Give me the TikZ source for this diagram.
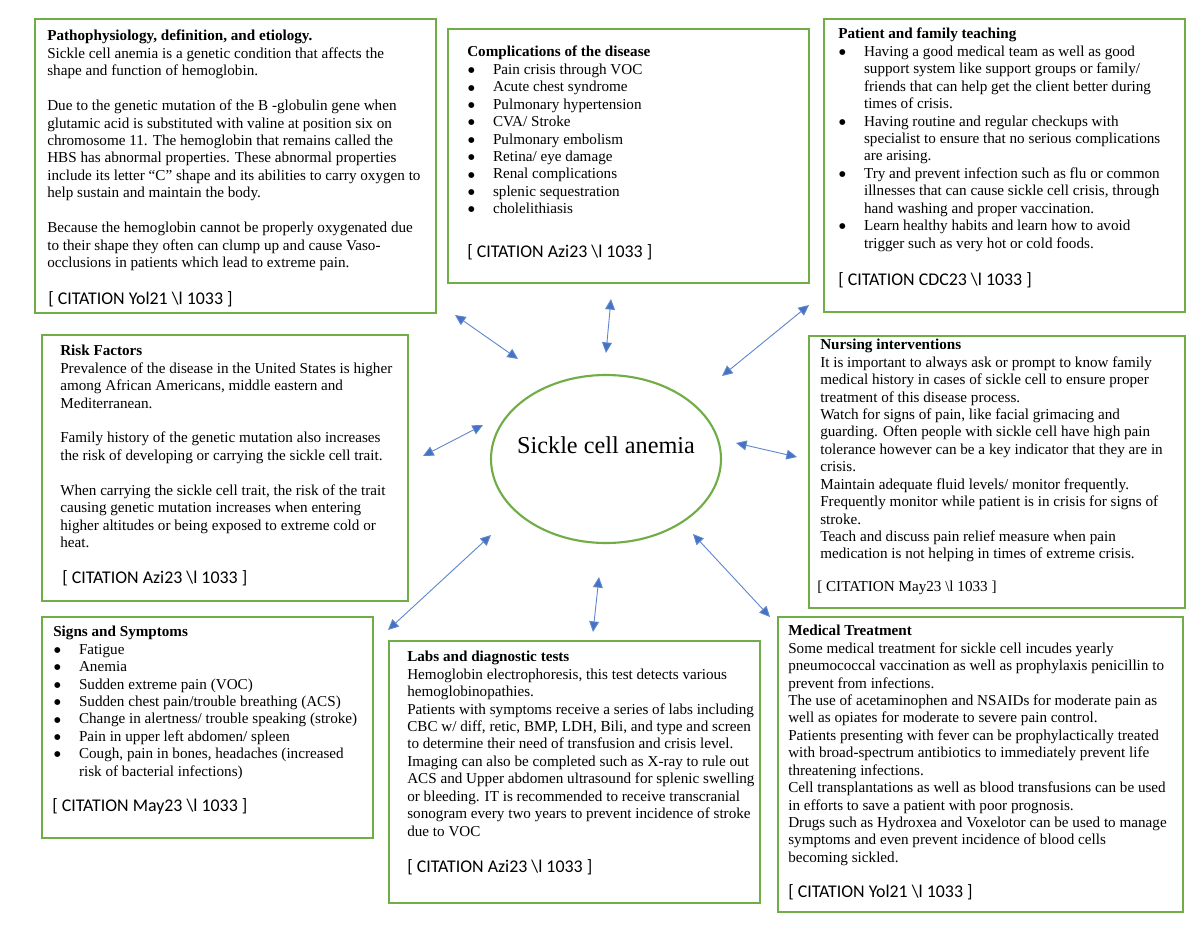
\documentclass[tikz,border=0pt]{standalone}
\usepackage{fontspec}
\setmainfont{Liberation Serif}
\newfontfamily\citefont{Carlito}
\newfontfamily\symfont{DejaVu Sans}
\usetikzlibrary{arrows.meta,shapes.geometric}
\definecolor{sgreen}{HTML}{70AD47}
\definecolor{sblue}{HTML}{4472C4}
\newcommand{\bl}{\makebox[17pt][l]{\hspace{0.5pt}\raisebox{1.2pt}{\symfont\fontsize{5}{5}\selectfont ●}}}
\newcommand{\ind}{\hspace*{17pt}}
\begin{document}
\begin{tikzpicture}[x=0.66pt,y=-0.66pt,
  box/.style={draw=sgreen, line width=1.4pt},
  txt/.style={anchor=north west, align=left, inner sep=0pt, font=\fontsize{10}{11.5}\selectfont},
  cite/.style={anchor=west, inner sep=0pt, font=\citefont\fontsize{11.8}{13}\selectfont},
  link/.style={draw=sblue!85, line width=0.6pt, {Triangle[length=7pt,width=6.5pt,fill=sblue]}-{Triangle[length=7pt,width=6.5pt,fill=sblue]}}]
\useasboundingbox[fill=white] (0,0) rectangle (1200,927);

% boxes
\draw[box] (35,19) rectangle (436,313);
\draw[box] (448,29) rectangle (809,283);
\draw[box] (824,19) rectangle (1185,312);
\draw[box] (42,335) rectangle (408,601);
\draw[box] (809,336) rectangle (1185,608);
\draw[box] (42,617) rectangle (373,838);
\draw[box] (389,641) rectangle (760,903);
\draw[box] (778,617) rectangle (1183,912);

% center
\node[draw=sgreen, line width=1.4pt, ellipse, minimum width=151.8pt, minimum height=110.9pt, inner sep=0pt] (c0) at (606,459) {};
\node[inner sep=0pt, font=\fontsize{16}{19}\selectfont] (center) at (606,445) {Sickle cell anemia};

% texts
\node[txt] (patho) at (47,30) {\textbf{Pathophysiology, definition, and etiology.}\\
Sickle cell anemia is a genetic condition that affects the\\
shape and function of hemoglobin.\\[11.5pt]
Due to the genetic mutation of the B -globulin gene when\\
glutamic acid is substituted with valine at position six on\\
chromosome 11. The hemoglobin that remains called the\\
HBS has abnormal properties. These abnormal properties\\
include its letter “C” shape and its abilities to carry oxygen to\\
help sustain and maintain the body.\\[11.5pt]
Because the hemoglobin cannot be properly oxygenated due\\
to their shape they often can clump up and cause Vaso-\\
occlusions in patients which lead to extreme pain.};
\node[cite] (pathoc) at (48,299) {[ CITATION Yol21 \textbackslash l 1033 ]};

\node[txt] (comp) at (467,46) {\textbf{Complications of the disease}\\
\bl Pain crisis through VOC\\
\bl Acute chest syndrome\\
\bl Pulmonary hypertension\\
\bl CVA/ Stroke\\
\bl Pulmonary embolism\\
\bl Retina/ eye damage\\
\bl Renal complications\\
\bl splenic sequestration\\
\bl cholelithiasis};
\node[cite] (compc) at (467,252) {[ CITATION Azi23 \textbackslash l 1033 ]};

\node[txt] (teach) at (838,28) {\textbf{Patient and family teaching}\\
\bl Having a good medical team as well as good\\
\ind support system like support groups or family/\\
\ind friends that can help get the client better during\\
\ind times of crisis.\\
\bl Having routine and regular checkups with\\
\ind specialist to ensure that no serious complications\\
\ind are arising.\\
\bl Try and prevent infection such as flu or common\\
\ind illnesses that can cause sickle cell crisis, through\\
\ind hand washing and proper vaccination.\\
\bl Learn healthy habits and learn how to avoid\\
\ind trigger such as very hot or cold foods.};
\node[cite] (teachc) at (838,280) {[ CITATION CDC23 \textbackslash l 1033 ]};

\node[txt] (risk) at (60,345) {\textbf{Risk Factors}\\
Prevalence of the disease in the United States is higher\\
among African Americans, middle eastern and\\
Mediterranean.\\[11.5pt]
Family history of the genetic mutation also increases\\
the risk of developing or carrying the sickle cell trait.\\[11.5pt]
When carrying the sickle cell trait, the risk of the trait\\
causing genetic mutation increases when entering\\
higher altitudes or being exposed to extreme cold or\\
heat.};
\node[cite] (riskc) at (62,578) {[ CITATION Azi23 \textbackslash l 1033 ]};

\node[txt] (nurse) at (820,339) {\textbf{Nursing interventions}\\
It is important to always ask or prompt to know family\\
medical history in cases of sickle cell to ensure proper\\
treatment of this disease process.\\
Watch for signs of pain, like facial grimacing and\\
guarding. Often people with sickle cell have high pain\\
tolerance however can be a key indicator that they are in\\
crisis.\\
Maintain adequate fluid levels/ monitor frequently.\\
Frequently monitor while patient is in crisis for signs of\\
stroke.\\
Teach and discuss pain relief measure when pain\\
medication is not helping in times of extreme crisis.};
\node[anchor=west, inner sep=0pt, font=\fontsize{10}{11.5}\selectfont] (nursec) at (817,588) {[ CITATION May23 \textbackslash l 1033 ]};

\node[txt] (signs) at (53,626) {\textbf{Signs and Symptoms}\\
\bl Fatigue\\
\bl Anemia\\
\bl Sudden extreme pain (VOC)\\
\bl Sudden chest pain/trouble breathing (ACS)\\
\bl Change in alertness/ trouble speaking (stroke)\\
\bl Pain in upper left abdomen/ spleen\\
\bl Cough, pain in bones, headaches (increased\\
\ind risk of bacterial infections)};
\node[cite] (signsc) at (52,806) {[ CITATION May23 \textbackslash l 1033 ]};

\node[txt] (labs) at (407,651) {\textbf{Labs and diagnostic tests}\\
Hemoglobin electrophoresis, this test detects various\\
hemoglobinopathies.\\
Patients with symptoms receive a series of labs including\\
CBC w/ diff, retic, BMP, LDH, Bili, and type and screen\\
to determine their need of transfusion and crisis level.\\
Imaging can also be completed such as X-ray to rule out\\
ACS and Upper abdomen ultrasound for splenic swelling\\
or bleeding. IT is recommended to receive transcranial\\
sonogram every two years to prevent incidence of stroke\\
due to VOC};
\node[cite] (labsc) at (407,867) {[ CITATION Azi23 \textbackslash l 1033 ]};

\node[txt] (med) at (788,625) {\textbf{Medical Treatment}\\
Some medical treatment for sickle cell incudes yearly\\
pneumococcal vaccination as well as prophylaxis penicillin to\\
prevent from infections.\\
The use of acetaminophen and NSAIDs for moderate pain as\\
well as opiates for moderate to severe pain control.\\
Patients presenting with fever can be prophylactically treated\\
with broad-spectrum antibiotics to immediately prevent life\\
threatening infections.\\
Cell transplantations as well as blood transfusions can be used\\
in efforts to save a patient with poor prognosis.\\
Drugs such as Hydroxea and Voxelotor can be used to manage\\
symptoms and even prevent incidence of blood cells\\
becoming sickled.};
\node[cite] (medc) at (788,892) {[ CITATION Yol21 \textbackslash l 1033 ]};

% arrow end points
\coordinate (a1s) at (455,315); \coordinate (a1e) at (518,359);
\coordinate (a2s) at (611,299); \coordinate (a2e) at (606,353);
\coordinate (a3s) at (809,305); \coordinate (a3e) at (722,376);
\coordinate (a4s) at (423,456); \coordinate (a4e) at (483,425);
\coordinate (a5s) at (736,443); \coordinate (a5e) at (797,457);
\coordinate (a6s) at (388,630); \coordinate (a6e) at (491,535);
\coordinate (a7s) at (599,577); \coordinate (a7e) at (593,632);
\coordinate (a8s) at (693,534); \coordinate (a8e) at (770,617);
\foreach \i in {1,...,8} {\draw[link] (a\i s) -- (a\i e);}
\end{tikzpicture}
\end{document}
